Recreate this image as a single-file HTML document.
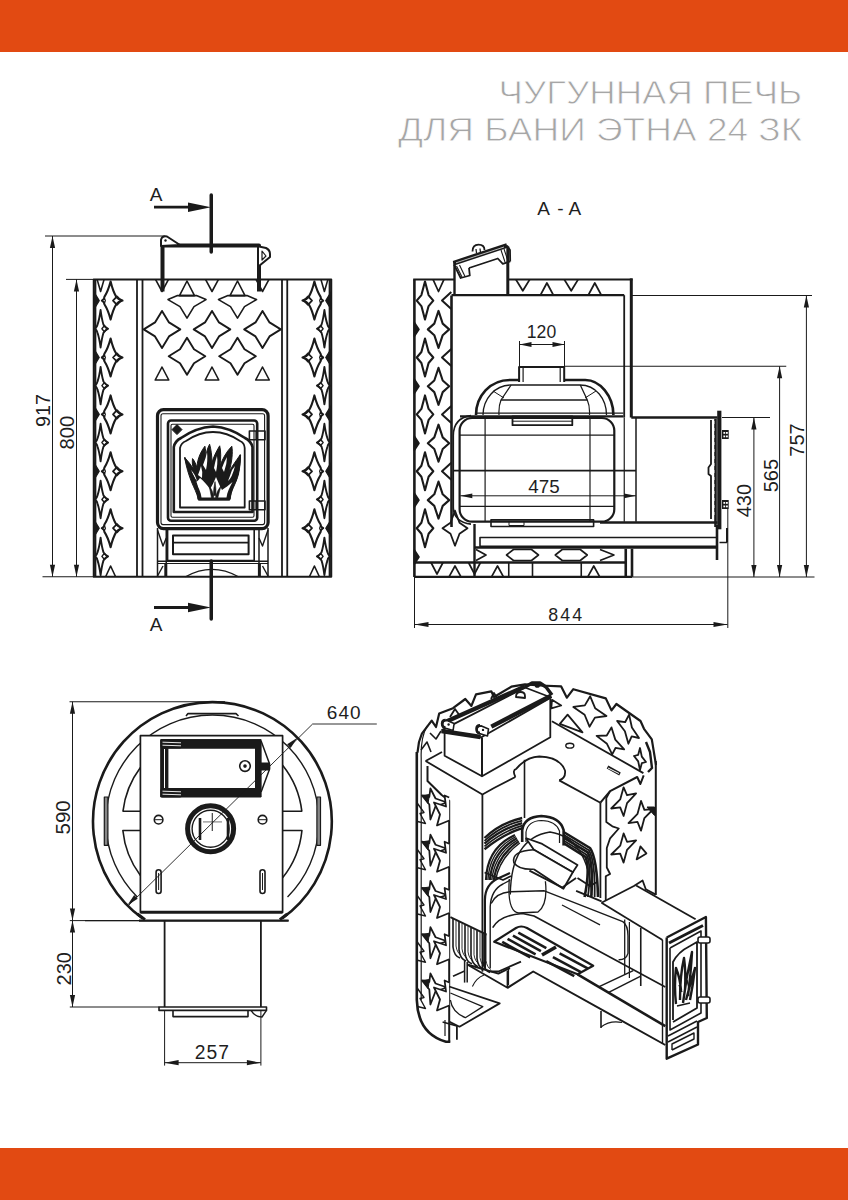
<!DOCTYPE html>
<html><head><meta charset="utf-8"><title>Этна 24 ЗК</title>
<style>
html,body{margin:0;padding:0;background:#fff;}
body{width:848px;height:1200px;overflow:hidden;position:relative;font-family:"Liberation Sans",sans-serif;}
.band{position:absolute;left:0;width:848px;background:#e24a12;}
svg{position:absolute;left:0;top:0;}
svg text{font-family:"Liberation Sans",sans-serif;fill:#1e1e1e;stroke:none;}
</style></head><body>
<div class="band" style="top:0;height:52px"></div>
<div class="band" style="top:1148px;height:52px"></div>
<svg width="848" height="1200" viewBox="0 0 848 1200">
<g fill="none" stroke="#1a1a1a" stroke-linejoin="round" stroke-linecap="butt">
<text x="498.6" y="103.6" font-size="33" textLength="303.5" lengthAdjust="spacingAndGlyphs" style="fill:#a6a6a6;stroke:#fff;stroke-width:0.8px">ЧУГУННАЯ ПЕЧЬ</text>
<text x="398" y="141.2" font-size="33" textLength="404.2" lengthAdjust="spacingAndGlyphs" style="fill:#a6a6a6;stroke:#fff;stroke-width:0.8px">ДЛЯ БАНИ ЭТНА 24 ЗК</text>
<path d="M93.75 279.4 L331.25 279.4 L331.25 576.75 L93.75 576.75Z" stroke-width="2"/>
<line x1="137" y1="279.4" x2="137" y2="576.75" stroke-width="1.8"/>
<line x1="142.5" y1="279.4" x2="142.5" y2="576.75" stroke-width="1.8"/>
<line x1="282" y1="279.4" x2="282" y2="576.75" stroke-width="1.8"/>
<line x1="287.25" y1="279.4" x2="287.25" y2="576.75" stroke-width="1.8"/>
<line x1="45" y1="236" x2="165" y2="236" stroke-width="1"/>
<line x1="66" y1="279.4" x2="93.75" y2="279.4" stroke-width="1"/>
<line x1="42.5" y1="576.75" x2="93.75" y2="576.75" stroke-width="1"/>
<line x1="52.5" y1="236" x2="52.5" y2="576.75" stroke-width="1"/>
<path d="M52.5 236 L49.9 248 L55.1 248Z" fill="#1a1a1a" stroke="none"/>
<path d="M52.5 576.75 L49.9 564.75 L55.1 564.75Z" fill="#1a1a1a" stroke="none"/>
<line x1="76.5" y1="279.4" x2="76.5" y2="576.75" stroke-width="1"/>
<path d="M76.5 279.4 L73.9 291.4 L79.1 291.4Z" fill="#1a1a1a" stroke="none"/>
<path d="M76.5 576.75 L73.9 564.75 L79.1 564.75Z" fill="#1a1a1a" stroke="none"/>
<text x="49.6" y="410.6" font-size="19.8" text-anchor="middle" transform="rotate(-90 49.6 410.6)">917</text>
<text x="74" y="432.7" font-size="20.2" text-anchor="middle" transform="rotate(-90 74 432.7)">800</text>
<path d="M162.5 291.4 L162.5 245.5 L259 245.5 L259 291.4" stroke-width="4"/>
<path d="M161 246 L161 240 Q162 235.5 167 236.5 L180 245 Z" stroke-width="2" fill="#fff"/>
<circle cx="165.5" cy="240.5" r="1.2" fill="#1a1a1a" stroke="none"/>
<path d="M259 246.5 L266 248 Q270 250 270 254 L270 257 L259 266" stroke-width="2" fill="#fff"/>
<path d="M262 251 L266 256 L262 260Z" stroke-width="1.2"/>
<line x1="211.25" y1="195" x2="211.25" y2="252" stroke-width="3.5" stroke-linecap="round"/>
<line x1="211.25" y1="561" x2="211.25" y2="619" stroke-width="3.5" stroke-linecap="round"/>
<line x1="154" y1="207.2" x2="195" y2="207.2" stroke-width="2.8"/>
<path d="M211 207.2 L188 202.4 L188 212Z" fill="#1a1a1a" stroke="none"/>
<line x1="154" y1="607.5" x2="195" y2="607.5" stroke-width="2.8"/>
<path d="M211 607.5 L188 602.7 L188 612.3Z" fill="#1a1a1a" stroke="none"/>
<text x="156.2" y="200.5" font-size="19" text-anchor="middle">A</text>
<text x="156.2" y="631" font-size="19" text-anchor="middle">A</text>
<path d="M168 299.6 L177.5 295.6 L196.5 295.6 L206 299.6 L194 306.6 L187 318.1 L180 306.6Z" stroke-width="1.6"/>
<path d="M187 281 L179.5 295.6 L194.5 295.6Z" stroke-width="1.6"/>
<path d="M218.5 299.6 L228 295.6 L247 295.6 L256.5 299.6 L244.5 306.6 L237.5 318.1 L230.5 306.6Z" stroke-width="1.6"/>
<path d="M237.5 281 L230 295.6 L245 295.6Z" stroke-width="1.6"/>
<path d="M162 310.9 L169 322.4 L180.3 329.4 L169 336.4 L162 347.9 L155 336.4 L143.7 329.4 L155 322.4Z" stroke-width="1.9"/>
<path d="M212 310.9 L219 322.4 L230.3 329.4 L219 336.4 L212 347.9 L205 336.4 L193.7 329.4 L205 322.4Z" stroke-width="1.9"/>
<path d="M262.5 310.9 L269.5 322.4 L280.8 329.4 L269.5 336.4 L262.5 347.9 L255.5 336.4 L244.2 329.4 L255.5 322.4Z" stroke-width="1.9"/>
<path d="M187 337.75 L194 349.25 L205.3 356.25 L194 363.25 L187 374.75 L180 363.25 L168.7 356.25 L180 349.25Z" stroke-width="1.9"/>
<path d="M237.5 337.75 L244.5 349.25 L255.8 356.25 L244.5 363.25 L237.5 374.75 L230.5 363.25 L219.2 356.25 L230.5 349.25Z" stroke-width="1.9"/>
<path d="M162 367 L155.2 380 L168.8 380Z" stroke-width="1.6"/>
<path d="M212 367 L205.2 380 L218.8 380Z" stroke-width="1.6"/>
<path d="M262.5 367 L255.7 380 L269.3 380Z" stroke-width="1.6"/>
<path d="M155.5 279.4 L162 291.5 L168.5 279.4" stroke-width="1.6"/>
<path d="M205.5 279.4 L212 291.5 L218.5 279.4" stroke-width="1.6"/>
<path d="M256 279.4 L262.5 291.5 L269 279.4" stroke-width="1.6"/>
<path d="M110.6 281.6 Q112.92 291.29 116.25 296.9 Q117.8 299.08 122.5 300.6 Q117.8 302.12 116.25 304.3 Q112.92 309.91 110.6 319.6 Q108.06 309.91 104.4 304.3 Q104.49 302.12 101.9 300.6 Q104.49 299.08 104.4 296.9 Q108.06 291.29 110.6 281.6Z" stroke-width="2.1"/>
<path d="M113 300.6 L117 296.4 L121 300.6 L117 304.8Z" stroke-width="1.8"/>
<path d="M101.9 300.6 L104.6 298.4 L105.4 300.6 L104.6 302.8Z" stroke-width="1.2"/>
<path d="M314.4 281.6 Q316.94 291.29 320.6 296.9 Q320.51 299.08 323.1 300.6 Q320.51 302.12 320.6 304.3 Q316.94 309.91 314.4 319.6 Q312.08 309.91 308.75 304.3 Q307.2 302.12 302.5 300.6 Q307.2 299.08 308.75 296.9 Q312.08 291.29 314.4 281.6Z" stroke-width="2.1"/>
<path d="M312 300.6 L308 296.4 L304 300.6 L308 304.8Z" stroke-width="1.8"/>
<path d="M323.1 300.6 L320.4 298.4 L319.6 300.6 L320.4 302.8Z" stroke-width="1.2"/>
<path d="M110.6 338.5 Q112.92 348.19 116.25 353.8 Q117.8 355.98 122.5 357.5 Q117.8 359.02 116.25 361.2 Q112.92 366.81 110.6 376.5 Q108.06 366.81 104.4 361.2 Q104.49 359.02 101.9 357.5 Q104.49 355.98 104.4 353.8 Q108.06 348.19 110.6 338.5Z" stroke-width="2.1"/>
<path d="M113 357.5 L117 353.3 L121 357.5 L117 361.7Z" stroke-width="1.8"/>
<path d="M101.9 357.5 L104.6 355.3 L105.4 357.5 L104.6 359.7Z" stroke-width="1.2"/>
<path d="M314.4 338.5 Q316.94 348.19 320.6 353.8 Q320.51 355.98 323.1 357.5 Q320.51 359.02 320.6 361.2 Q316.94 366.81 314.4 376.5 Q312.08 366.81 308.75 361.2 Q307.2 359.02 302.5 357.5 Q307.2 355.98 308.75 353.8 Q312.08 348.19 314.4 338.5Z" stroke-width="2.1"/>
<path d="M312 357.5 L308 353.3 L304 357.5 L308 361.7Z" stroke-width="1.8"/>
<path d="M323.1 357.5 L320.4 355.3 L319.6 357.5 L320.4 359.7Z" stroke-width="1.2"/>
<path d="M110.6 395.4 Q112.92 405.09 116.25 410.7 Q117.8 412.88 122.5 414.4 Q117.8 415.92 116.25 418.1 Q112.92 423.71 110.6 433.4 Q108.06 423.71 104.4 418.1 Q104.49 415.92 101.9 414.4 Q104.49 412.88 104.4 410.7 Q108.06 405.09 110.6 395.4Z" stroke-width="2.1"/>
<path d="M113 414.4 L117 410.2 L121 414.4 L117 418.6Z" stroke-width="1.8"/>
<path d="M101.9 414.4 L104.6 412.2 L105.4 414.4 L104.6 416.6Z" stroke-width="1.2"/>
<path d="M314.4 395.4 Q316.94 405.09 320.6 410.7 Q320.51 412.88 323.1 414.4 Q320.51 415.92 320.6 418.1 Q316.94 423.71 314.4 433.4 Q312.08 423.71 308.75 418.1 Q307.2 415.92 302.5 414.4 Q307.2 412.88 308.75 410.7 Q312.08 405.09 314.4 395.4Z" stroke-width="2.1"/>
<path d="M312 414.4 L308 410.2 L304 414.4 L308 418.6Z" stroke-width="1.8"/>
<path d="M323.1 414.4 L320.4 412.2 L319.6 414.4 L320.4 416.6Z" stroke-width="1.2"/>
<path d="M110.6 452.3 Q112.92 461.99 116.25 467.6 Q117.8 469.78 122.5 471.3 Q117.8 472.82 116.25 475 Q112.92 480.61 110.6 490.3 Q108.06 480.61 104.4 475 Q104.49 472.82 101.9 471.3 Q104.49 469.78 104.4 467.6 Q108.06 461.99 110.6 452.3Z" stroke-width="2.1"/>
<path d="M113 471.3 L117 467.1 L121 471.3 L117 475.5Z" stroke-width="1.8"/>
<path d="M101.9 471.3 L104.6 469.1 L105.4 471.3 L104.6 473.5Z" stroke-width="1.2"/>
<path d="M314.4 452.3 Q316.94 461.99 320.6 467.6 Q320.51 469.78 323.1 471.3 Q320.51 472.82 320.6 475 Q316.94 480.61 314.4 490.3 Q312.08 480.61 308.75 475 Q307.2 472.82 302.5 471.3 Q307.2 469.78 308.75 467.6 Q312.08 461.99 314.4 452.3Z" stroke-width="2.1"/>
<path d="M312 471.3 L308 467.1 L304 471.3 L308 475.5Z" stroke-width="1.8"/>
<path d="M323.1 471.3 L320.4 469.1 L319.6 471.3 L320.4 473.5Z" stroke-width="1.2"/>
<path d="M110.6 509.2 Q112.92 518.89 116.25 524.5 Q117.8 526.68 122.5 528.2 Q117.8 529.72 116.25 531.9 Q112.92 537.51 110.6 547.2 Q108.06 537.51 104.4 531.9 Q104.49 529.72 101.9 528.2 Q104.49 526.68 104.4 524.5 Q108.06 518.89 110.6 509.2Z" stroke-width="2.1"/>
<path d="M113 528.2 L117 524 L121 528.2 L117 532.4Z" stroke-width="1.8"/>
<path d="M101.9 528.2 L104.6 526 L105.4 528.2 L104.6 530.4Z" stroke-width="1.2"/>
<path d="M314.4 509.2 Q316.94 518.89 320.6 524.5 Q320.51 526.68 323.1 528.2 Q320.51 529.72 320.6 531.9 Q316.94 537.51 314.4 547.2 Q312.08 537.51 308.75 531.9 Q307.2 529.72 302.5 528.2 Q307.2 526.68 308.75 524.5 Q312.08 518.89 314.4 509.2Z" stroke-width="2.1"/>
<path d="M312 528.2 L308 524 L304 528.2 L308 532.4Z" stroke-width="1.8"/>
<path d="M323.1 528.2 L320.4 526 L319.6 528.2 L320.4 530.4Z" stroke-width="1.2"/>
<path d="M100.6 310 Q101.79 319.42 103.5 324.75 Q104.86 327.11 108.1 328.75 Q104.86 330.39 103.5 332.75 Q101.79 338.08 100.6 347.5 Q99.33 338.08 97.5 332.75 Q97.03 330.39 95 328.75 Q97.03 327.11 97.5 324.75 Q99.33 319.42 100.6 310Z" stroke-width="1.9"/>
<path d="M101.9 328.75 L104.4 325.65 L106.9 328.75 L104.4 331.85Z" stroke-width="1.4"/>
<path d="M324.4 310 Q325.67 319.42 327.5 324.75 Q327.97 327.11 330 328.75 Q327.97 330.39 327.5 332.75 Q325.67 338.08 324.4 347.5 Q323.21 338.08 321.5 332.75 Q320.14 330.39 316.9 328.75 Q320.14 327.11 321.5 324.75 Q323.21 319.42 324.4 310Z" stroke-width="1.9"/>
<path d="M323.1 328.75 L320.6 325.65 L318.1 328.75 L320.6 331.85Z" stroke-width="1.4"/>
<path d="M100.6 366.9 Q101.79 376.32 103.5 381.65 Q104.86 384.01 108.1 385.65 Q104.86 387.29 103.5 389.65 Q101.79 394.98 100.6 404.4 Q99.33 394.98 97.5 389.65 Q97.03 387.29 95 385.65 Q97.03 384.01 97.5 381.65 Q99.33 376.32 100.6 366.9Z" stroke-width="1.9"/>
<path d="M101.9 385.65 L104.4 382.55 L106.9 385.65 L104.4 388.75Z" stroke-width="1.4"/>
<path d="M324.4 366.9 Q325.67 376.32 327.5 381.65 Q327.97 384.01 330 385.65 Q327.97 387.29 327.5 389.65 Q325.67 394.98 324.4 404.4 Q323.21 394.98 321.5 389.65 Q320.14 387.29 316.9 385.65 Q320.14 384.01 321.5 381.65 Q323.21 376.32 324.4 366.9Z" stroke-width="1.9"/>
<path d="M323.1 385.65 L320.6 382.55 L318.1 385.65 L320.6 388.75Z" stroke-width="1.4"/>
<path d="M100.6 423.8 Q101.79 433.22 103.5 438.55 Q104.86 440.91 108.1 442.55 Q104.86 444.19 103.5 446.55 Q101.79 451.88 100.6 461.3 Q99.33 451.88 97.5 446.55 Q97.03 444.19 95 442.55 Q97.03 440.91 97.5 438.55 Q99.33 433.22 100.6 423.8Z" stroke-width="1.9"/>
<path d="M101.9 442.55 L104.4 439.45 L106.9 442.55 L104.4 445.65Z" stroke-width="1.4"/>
<path d="M324.4 423.8 Q325.67 433.22 327.5 438.55 Q327.97 440.91 330 442.55 Q327.97 444.19 327.5 446.55 Q325.67 451.88 324.4 461.3 Q323.21 451.88 321.5 446.55 Q320.14 444.19 316.9 442.55 Q320.14 440.91 321.5 438.55 Q323.21 433.22 324.4 423.8Z" stroke-width="1.9"/>
<path d="M323.1 442.55 L320.6 439.45 L318.1 442.55 L320.6 445.65Z" stroke-width="1.4"/>
<path d="M100.6 480.7 Q101.79 490.12 103.5 495.45 Q104.86 497.81 108.1 499.45 Q104.86 501.09 103.5 503.45 Q101.79 508.78 100.6 518.2 Q99.33 508.78 97.5 503.45 Q97.03 501.09 95 499.45 Q97.03 497.81 97.5 495.45 Q99.33 490.12 100.6 480.7Z" stroke-width="1.9"/>
<path d="M101.9 499.45 L104.4 496.35 L106.9 499.45 L104.4 502.55Z" stroke-width="1.4"/>
<path d="M324.4 480.7 Q325.67 490.12 327.5 495.45 Q327.97 497.81 330 499.45 Q327.97 501.09 327.5 503.45 Q325.67 508.78 324.4 518.2 Q323.21 508.78 321.5 503.45 Q320.14 501.09 316.9 499.45 Q320.14 497.81 321.5 495.45 Q323.21 490.12 324.4 480.7Z" stroke-width="1.9"/>
<path d="M323.1 499.45 L320.6 496.35 L318.1 499.45 L320.6 502.55Z" stroke-width="1.4"/>
<path d="M100.6 537.6 Q101.79 547.02 103.5 552.35 Q104.86 554.71 108.1 556.35 Q104.86 557.99 103.5 560.35 Q101.79 565.68 100.6 575.1 Q99.33 565.68 97.5 560.35 Q97.03 557.99 95 556.35 Q97.03 554.71 97.5 552.35 Q99.33 547.02 100.6 537.6Z" stroke-width="1.9"/>
<path d="M101.9 556.35 L104.4 553.25 L106.9 556.35 L104.4 559.45Z" stroke-width="1.4"/>
<path d="M324.4 537.6 Q325.67 547.02 327.5 552.35 Q327.97 554.71 330 556.35 Q327.97 557.99 327.5 560.35 Q325.67 565.68 324.4 575.1 Q323.21 565.68 321.5 560.35 Q320.14 557.99 316.9 556.35 Q320.14 554.71 321.5 552.35 Q323.21 547.02 324.4 537.6Z" stroke-width="1.9"/>
<path d="M323.1 556.35 L320.6 553.25 L318.1 556.35 L320.6 559.45Z" stroke-width="1.4"/>
<path d="M97.1 279.4 L100.6 291.5 L104.1 279.4" stroke-width="1.6"/>
<path d="M320.9 279.4 L324.4 291.5 L327.9 279.4" stroke-width="1.6"/>
<path d="M105.6 576.75 L110.6 566 L115.6 576.75" stroke-width="1.6"/>
<path d="M309.4 576.75 L314.4 566 L319.4 576.75" stroke-width="1.6"/>
<path d="M93.75 291.6 L99.25 300.6 L93.75 309.6Z" stroke-width="1.2" fill="#1a1a1a"/>
<path d="M331.25 291.6 L325.75 300.6 L331.25 309.6Z" stroke-width="1.2" fill="#1a1a1a"/>
<path d="M93.75 348.5 L99.25 357.5 L93.75 366.5Z" stroke-width="1.2" fill="#1a1a1a"/>
<path d="M331.25 348.5 L325.75 357.5 L331.25 366.5Z" stroke-width="1.2" fill="#1a1a1a"/>
<path d="M93.75 405.4 L99.25 414.4 L93.75 423.4Z" stroke-width="1.2" fill="#1a1a1a"/>
<path d="M331.25 405.4 L325.75 414.4 L331.25 423.4Z" stroke-width="1.2" fill="#1a1a1a"/>
<path d="M93.75 462.3 L99.25 471.3 L93.75 480.3Z" stroke-width="1.2" fill="#1a1a1a"/>
<path d="M331.25 462.3 L325.75 471.3 L331.25 480.3Z" stroke-width="1.2" fill="#1a1a1a"/>
<path d="M93.75 519.2 L99.25 528.2 L93.75 537.2Z" stroke-width="1.2" fill="#1a1a1a"/>
<path d="M331.25 519.2 L325.75 528.2 L331.25 537.2Z" stroke-width="1.2" fill="#1a1a1a"/>
<line x1="95.25" y1="279.4" x2="95.25" y2="576.75" stroke-width="2.2"/>
<line x1="329.75" y1="279.4" x2="329.75" y2="576.75" stroke-width="2.2"/>
<rect x="157.5" y="409.7" width="110.6" height="118.9" rx="6" stroke-width="3.2"/>
<rect x="161" y="413.8" width="103.6" height="110.8" rx="2" stroke-width="1.1"/>
<rect x="168" y="420.5" width="89.2" height="100.3" rx="3" stroke-width="2.6"/>
<rect x="171" y="424.2" width="83" height="93" rx="1.5" stroke-width="1.1"/>
<path d="M173.8 512 L173.8 447 Q175 441 181 438 Q196 427.5 213 426.5 Q230 427.5 245 438 Q251 441 252.5 447 L252.5 512 Z" stroke-width="2.6"/>
<path d="M180 507.5 L180 448 Q181 443 186 441 Q199 432 213 432 Q227 432 240 441 Q244.5 443 244.7 448 L244.7 507.5 Z" stroke-width="1.8"/>
<path d="M177 424.6 L182 429.6 L177 434.6 L172 429.6 Z" fill="#1a1a1a" stroke-width="1"/>
<rect x="249.4" y="431" width="15.6" height="8.7" stroke-width="1.6"/>
<line x1="256" y1="431" x2="256" y2="439.7" stroke-width="1.2"/>
<rect x="249.4" y="501" width="15.6" height="8.7" stroke-width="1.6"/>
<line x1="256" y1="501" x2="256" y2="509.7" stroke-width="1.2"/>
<path d="M198.3 499.5 L229.8 499.5 C230.5 491 236 484 238.5 474 C240 467 240.5 460 240.3 454.7 C236 461 232 466 229 472 C232 462 233 452 231.8 446.2 C226 452 222 460 220 466 C221 458 221 451 219.7 445.8 C216 452 213 458 212 463 C212 456 211 449 209.6 444.2 C207 449 206 454 206 458 C206 453 205.5 449 204.9 446.2 C199 454 197 462 197 468 C196 464 194 460 192.5 458.6 C192 462 192.5 466 193.5 469 C191 465 188 461 184.7 457.5 C186 466 189 476 192 483 C194 488 197 493 198.3 499.5 Z" fill="#1a1a1a" stroke="#1a1a1a" stroke-width="1"/>
<path d="M201.5 497.5 L226.5 497.5 C227 492 230 487 232.5 482 C229 485 225 488 222 490 C220 486 218 482 216 477 C214 482 212 486 210 489 C207 485 204 481 200 478 C198 481 196 482 195.5 482 C198 487 201 492 201.5 497.5 Z" fill="#fff" stroke="none"/>
<path d="M191 470 Q195 474 197 481 Q194 478 191 470 Z" fill="#fff" stroke="none"/>
<path d="M232 470 Q230 476 228 481 Q232 478 235 466 Z" fill="#fff" stroke="none"/>
<path d="M203 465 Q206 458 207 452 Q208 460 206 470 Z" fill="#fff" stroke="none"/>
<path d="M214 468 Q215 462 217 456 Q218 463 216 472 Z" fill="#fff" stroke="none"/>
<path d="M222 468 Q224 462 227 457 Q227 464 224 472 Z" fill="#fff" stroke="none"/>
<path d="M198 475 Q200 470 201 466 Q203 472 202 478 Z" fill="#fff" stroke="none"/>
<path d="M211.53 498.26 Q210.43 491.4 208.79 484.69 Q212.97 490.65 213.84 497.58 Z" fill="#1a1a1a" stroke="#1a1a1a" stroke-width="0.6"/>
<path d="M215.45 497.5 Q216.74 490.88 221.25 485.47 Q219.21 491.81 217.7 498.34 Z" fill="#1a1a1a" stroke="#1a1a1a" stroke-width="0.6"/>
<path d="M213.33 495.55 Q213.4 488.54 215.02 481.58 Q216.25 488.62 215.93 495.62 Z" fill="#1a1a1a" stroke="#1a1a1a" stroke-width="0.6"/>
<path d="M198.3 499.5 Q199 488 194 478 Q188 468 184.7 457.5 M229.8 499.5 Q231 488 236 480 Q240 468 240.3 454.7" stroke-width="1.6"/>
<line x1="198.3" y1="499.5" x2="229.8" y2="499.5" stroke-width="2.4"/>
<rect x="167.6" y="529" width="86.6" height="31.5" stroke-width="1.6"/>
<rect x="173" y="535.6" width="75.6" height="18.7" stroke-width="2"/>
<line x1="173" y1="542.6" x2="248.6" y2="542.6" stroke-width="1.8"/>
<line x1="157" y1="561.3" x2="268" y2="561.3" stroke-width="1.6"/>
<line x1="157" y1="563.5" x2="268" y2="563.5" stroke-width="1.2"/>
<path d="M185.5 576.8 Q212 562 238.5 576.8" stroke-width="1.2"/>
<line x1="157.5" y1="528" x2="157.5" y2="576.75" stroke-width="1.5"/>
<line x1="166.25" y1="528" x2="166.25" y2="576.75" stroke-width="1.5"/>
<line x1="259" y1="528" x2="259" y2="576.75" stroke-width="1.5"/>
<line x1="268" y1="528" x2="268" y2="576.75" stroke-width="1.5"/>
<line x1="165.8" y1="563" x2="165.8" y2="576.75" stroke-width="3"/>
<line x1="259.4" y1="563" x2="259.4" y2="576.75" stroke-width="3"/>
<path d="M157.5 530 L163 546 L166.25 538" stroke-width="1.4"/>
<path d="M268 530 L262.5 546 L259 538" stroke-width="1.4"/>
<path d="M157.5 576 L163 566" stroke-width="1.4"/>
<path d="M268 576 L262.5 566" stroke-width="1.4"/>
<text x="537.3" y="214.8" font-size="19" text-anchor="start">A</text>
<text x="560.5" y="214.8" font-size="19" text-anchor="middle">-</text>
<text x="568.4" y="214.8" font-size="19" text-anchor="start">A</text>
<line x1="414.4" y1="279.4" x2="414.4" y2="576.9" stroke-width="2.6"/>
<line x1="451.5" y1="295.5" x2="451.5" y2="527" stroke-width="2.6"/>
<line x1="474.5" y1="524" x2="474.5" y2="576.9" stroke-width="2.4"/>
<line x1="413.2" y1="279.4" x2="454" y2="279.4" stroke-width="2"/>
<path d="M425 281.6 L428.6 295.1 L433.3 300.6 L428.6 306.1 L425 319.6 L421.4 306.1 L416.7 300.6 L421.4 295.1Z" stroke-width="2.1"/>
<path d="M451.3 292.1 L442 300.6 L451.3 309.1" stroke-width="2"/>
<path d="M425 338.5 L428.6 352 L433.3 357.5 L428.6 363 L425 376.5 L421.4 363 L416.7 357.5 L421.4 352Z" stroke-width="2.1"/>
<path d="M451.3 349 L442 357.5 L451.3 366" stroke-width="2"/>
<path d="M425 395.4 L428.6 408.9 L433.3 414.4 L428.6 419.9 L425 433.4 L421.4 419.9 L416.7 414.4 L421.4 408.9Z" stroke-width="2.1"/>
<path d="M451.3 405.9 L442 414.4 L451.3 422.9" stroke-width="2"/>
<path d="M425 452.3 L428.6 465.8 L433.3 471.3 L428.6 476.8 L425 490.3 L421.4 476.8 L416.7 471.3 L421.4 465.8Z" stroke-width="2.1"/>
<path d="M451.3 462.8 L442 471.3 L451.3 479.8" stroke-width="2"/>
<path d="M425 509.2 L428.6 522.7 L433.3 528.2 L428.6 533.7 L425 547.2 L421.4 533.7 L416.7 528.2 L421.4 522.7Z" stroke-width="2.1"/>
<path d="M455 510.7 L459.5 522.7 L467.5 528.2 L459.5 533.7 L455 545.7 L450.5 533.7 L442.5 528.2 L450.5 522.7Z" stroke-width="1.8"/>
<path d="M438.5 310.9 L442.7 323.6 L449.2 329.4 L442.7 335.2 L438.5 347.9 L434.3 335.2 L427.8 329.4 L434.3 323.6Z" stroke-width="2.1"/>
<path d="M414.4 322.4 L419 329.4 L414.4 336.4Z" stroke-width="1.6" fill="#1a1a1a"/>
<path d="M438.5 367.8 L442.7 380.5 L449.2 386.3 L442.7 392.1 L438.5 404.8 L434.3 392.1 L427.8 386.3 L434.3 380.5Z" stroke-width="2.1"/>
<path d="M414.4 379.3 L419 386.3 L414.4 393.3Z" stroke-width="1.6" fill="#1a1a1a"/>
<path d="M438.5 424.7 L442.7 437.4 L449.2 443.2 L442.7 449 L438.5 461.7 L434.3 449 L427.8 443.2 L434.3 437.4Z" stroke-width="2.1"/>
<path d="M414.4 436.2 L419 443.2 L414.4 450.2Z" stroke-width="1.6" fill="#1a1a1a"/>
<path d="M438.5 481.6 L442.7 494.3 L449.2 500.1 L442.7 505.9 L438.5 518.6 L434.3 505.9 L427.8 500.1 L434.3 494.3Z" stroke-width="2.1"/>
<path d="M414.4 493.1 L419 500.1 L414.4 507.1Z" stroke-width="1.6" fill="#1a1a1a"/>
<path d="M414.4 550 L419 557 L414.4 564Z" stroke-width="1.6" fill="#1a1a1a"/>
<path d="M433 279.4 L438.5 291.5 L444 279.4" stroke-width="1.7"/>
<line x1="508.2" y1="279.4" x2="632.5" y2="279.4" stroke-width="2"/>
<line x1="631.3" y1="278.4" x2="631.3" y2="417.5" stroke-width="3"/>
<line x1="451.5" y1="295.2" x2="624.2" y2="295.2" stroke-width="2.2"/>
<line x1="624.2" y1="295.2" x2="624.2" y2="417.5" stroke-width="1.8"/>
<path d="M515.8 279.4 L522.8 290.8 L529.8 279.4" stroke-width="1.8"/>
<path d="M564.2 279.4 L571.2 290.8 L578.2 279.4" stroke-width="1.8"/>
<path d="M540.4 295.2 L546.9 283 L553.4 295.2" stroke-width="1.8"/>
<path d="M588.3 295.2 L594.8 283 L601.3 295.2" stroke-width="1.8"/>
<line x1="454.5" y1="262" x2="454.5" y2="295.2" stroke-width="2.4"/>
<line x1="507.8" y1="246.5" x2="507.8" y2="295.2" stroke-width="3"/>
<path d="M472.5 251.5 Q472.5 244.6 478.5 244.6 Q484.5 244.6 484.5 250" stroke-width="1.8" fill="#fff"/>
<line x1="476" y1="249" x2="476.5" y2="253" stroke-width="1.2"/>
<line x1="480" y1="248.5" x2="480.5" y2="252.5" stroke-width="1.2"/>
<path d="M453.5 263.2 L507 245.5" stroke-width="4.8"/>
<path d="M456 262.8 L504 247" stroke-width="0.7" stroke="#fff"/>
<path d="M454 264.5 L460.7 278 L469.8 275.5 L469 268" stroke-width="1.8"/>
<line x1="456.5" y1="266" x2="462" y2="277" stroke-width="1.1"/>
<line x1="459.5" y1="265" x2="465" y2="276.5" stroke-width="1.1"/>
<path d="M469 268 L497.8 258.5 L502.8 263.9 L510.2 261.4" stroke-width="1.8"/>
<line x1="501" y1="250" x2="505" y2="262" stroke-width="1.1"/>
<line x1="504" y1="249" x2="508" y2="261" stroke-width="1.1"/>
<path d="M507 245.5 L510 250 L510.2 261.4" stroke-width="1.8"/>
<path d="M519.1 382 L519.1 367 L564.2 367 L564.2 382" stroke-width="2"/>
<line x1="523.1" y1="367" x2="523.1" y2="382" stroke-width="1.2"/>
<line x1="560.2" y1="367" x2="560.2" y2="382" stroke-width="1.2"/>
<line x1="519.5" y1="341" x2="519.5" y2="367" stroke-width="1"/>
<line x1="564.5" y1="341" x2="564.5" y2="367" stroke-width="1"/>
<line x1="519.5" y1="344.5" x2="564.5" y2="344.5" stroke-width="1"/>
<path d="M519.5 344.5 L531.5 342.1 L531.5 346.9Z" fill="#1a1a1a" stroke="none"/>
<path d="M564.5 344.5 L552.5 342.1 L552.5 346.9Z" fill="#1a1a1a" stroke="none"/>
<text x="541.5" y="338.2" font-size="17.6" text-anchor="middle">120</text>
<path d="M476 415 C476 396 490 380 510 380 L519.1 380 M564.2 380 L585.3 380 C600 380 613.4 396 613.4 415" stroke-width="2.6"/>
<path d="M483 415 C483 399 495 385 511 385 L580 385 C596 385 606.5 399 606.5 415" stroke-width="1.3"/>
<path d="M511.1 385 L501 400 L587.3 400 L580.3 385" stroke-width="1.3"/>
<path d="M501 400 Q498.5 406 499 415 M587.3 400 Q590 406 589.5 415" stroke-width="1.2"/>
<line x1="493" y1="391" x2="504" y2="398" stroke-width="1"/>
<line x1="596" y1="391" x2="585" y2="398" stroke-width="1"/>
<line x1="476" y1="413.1" x2="623.4" y2="413.1" stroke-width="1.4"/>
<line x1="460" y1="416.3" x2="623.4" y2="416.3" stroke-width="2.2"/>
<rect x="512.5" y="416.3" width="59.8" height="8.9" stroke-width="1.8"/>
<line x1="512.5" y1="421.2" x2="572.3" y2="421.2" stroke-width="1"/>
<path d="M471 415.6 Q453.3 418 453.3 435.7 L453.3 506.4 Q453.3 522 471 524.1" stroke-width="1.6"/>
<rect x="459.6" y="418" width="154.7" height="103.7" rx="12.5" stroke-width="2.2"/>
<line x1="485.1" y1="418" x2="485.1" y2="521.7" stroke-width="1.2"/>
<line x1="590" y1="418" x2="590" y2="521.7" stroke-width="1.2"/>
<line x1="459.6" y1="435.2" x2="614.3" y2="435.2" stroke-width="1.2"/>
<line x1="453.3" y1="470.6" x2="636" y2="470.6" stroke-width="1.8"/>
<line x1="459.6" y1="506.4" x2="614.3" y2="506.4" stroke-width="1.2"/>
<line x1="460.3" y1="495.8" x2="636" y2="495.8" stroke-width="1"/>
<path d="M460.3 495.8 L472.3 493.4 L472.3 498.2Z" fill="#1a1a1a" stroke="none"/>
<path d="M636 495.8 L624 493.4 L624 498.2Z" fill="#1a1a1a" stroke="none"/>
<text x="544" y="492.7" font-size="18.8" text-anchor="middle">475</text>
<rect x="491" y="519.9" width="102.6" height="6.6" stroke-width="1.6"/>
<rect x="509" y="521.5" width="15" height="4" stroke-width="1"/>
<line x1="624.25" y1="417.5" x2="624.25" y2="521.7" stroke-width="1.2"/>
<line x1="636" y1="417.5" x2="636" y2="521.7" stroke-width="1.5"/>
<line x1="631.3" y1="417.5" x2="717.5" y2="417.5" stroke-width="2.6"/>
<line x1="600" y1="522.5" x2="717.5" y2="522.5" stroke-width="2.6"/>
<line x1="719.3" y1="410.7" x2="719.3" y2="529.3" stroke-width="4.2"/>
<line x1="715.5" y1="419" x2="715.5" y2="527" stroke-width="2.6"/>
<line x1="714" y1="421" x2="714" y2="519" stroke-width="0.8" stroke="#fff" stroke-dasharray="3 4"/>
<path d="M711 420 L711 464 L708.5 467.5 L708.5 474 L711 476 L711 519" stroke-width="1.8"/>
<rect x="722" y="430" width="6.7" height="9" fill="#1a1a1a" stroke="none"/>
<rect x="723.4" y="432" width="1.8" height="1.8" fill="#fff" stroke="none"/>
<rect x="723.4" y="435.5" width="1.8" height="1.8" fill="#fff" stroke="none"/>
<rect x="726" y="432" width="1.8" height="1.8" fill="#fff" stroke="none"/>
<rect x="726" y="435.5" width="1.8" height="1.8" fill="#fff" stroke="none"/>
<rect x="722" y="500" width="6.7" height="9" fill="#1a1a1a" stroke="none"/>
<rect x="723.4" y="502" width="1.8" height="1.8" fill="#fff" stroke="none"/>
<rect x="723.4" y="505.5" width="1.8" height="1.8" fill="#fff" stroke="none"/>
<rect x="726" y="502" width="1.8" height="1.8" fill="#fff" stroke="none"/>
<rect x="726" y="505.5" width="1.8" height="1.8" fill="#fff" stroke="none"/>
<line x1="632" y1="295.5" x2="812" y2="295.5" stroke-width="1"/>
<line x1="565" y1="366.25" x2="786.25" y2="366.25" stroke-width="1"/>
<line x1="722" y1="417.5" x2="770" y2="417.5" stroke-width="1"/>
<line x1="632" y1="577" x2="814.5" y2="577" stroke-width="1"/>
<line x1="753.9" y1="417.5" x2="753.9" y2="577" stroke-width="1"/>
<path d="M753.9 417.5 L751.3 429.5 L756.5 429.5Z" fill="#1a1a1a" stroke="none"/>
<path d="M753.9 577 L751.3 565 L756.5 565Z" fill="#1a1a1a" stroke="none"/>
<line x1="779.6" y1="366.25" x2="779.6" y2="577" stroke-width="1"/>
<path d="M779.6 366.25 L777 378.25 L782.2 378.25Z" fill="#1a1a1a" stroke="none"/>
<path d="M779.6 577 L777 565 L782.2 565Z" fill="#1a1a1a" stroke="none"/>
<line x1="806.4" y1="295.5" x2="806.4" y2="577" stroke-width="1"/>
<path d="M806.4 295.5 L803.8 307.5 L809 307.5Z" fill="#1a1a1a" stroke="none"/>
<path d="M806.4 577 L803.8 565 L809 565Z" fill="#1a1a1a" stroke="none"/>
<text x="751.5" y="500.6" font-size="20" text-anchor="middle" transform="rotate(-90 751.5 500.6)">430</text>
<text x="777.8" y="475.6" font-size="20" text-anchor="middle" transform="rotate(-90 777.8 475.6)">565</text>
<text x="804" y="440" font-size="20" text-anchor="middle" transform="rotate(-90 804 440)">757</text>
<line x1="414.5" y1="577" x2="414.5" y2="628" stroke-width="1"/>
<line x1="727.8" y1="509" x2="727.8" y2="628" stroke-width="1"/>
<line x1="414.5" y1="624.5" x2="727.5" y2="624.5" stroke-width="1"/>
<path d="M414.5 624.5 L428.5 621.9 L428.5 627.1Z" fill="#1a1a1a" stroke="none"/>
<path d="M727.5 624.5 L713.5 621.9 L713.5 627.1Z" fill="#1a1a1a" stroke="none"/>
<text x="566.3" y="621.4" font-size="17.8" text-anchor="middle" letter-spacing="2.2">844</text>
<rect x="480" y="537.5" width="237" height="8.8" stroke-width="1.6"/>
<line x1="475" y1="547.5" x2="717" y2="547.5" stroke-width="2.6"/>
<line x1="414.4" y1="562.5" x2="625.75" y2="562.5" stroke-width="2.6"/>
<line x1="414" y1="576.9" x2="632" y2="576.9" stroke-width="2.2"/>
<line x1="717" y1="525" x2="717" y2="560" stroke-width="2.6"/>
<line x1="727" y1="528" x2="727" y2="542.5" stroke-width="2"/>
<line x1="719.5" y1="542.5" x2="727" y2="542.5" stroke-width="1.5"/>
<line x1="625.75" y1="548.75" x2="625.75" y2="576.9" stroke-width="2.6"/>
<line x1="632" y1="548.75" x2="632" y2="576.9" stroke-width="2.6"/>
<path d="M506.5 555 L513.5 549.5 L531.5 549.5 L538.5 555 L531.5 560.5 L513.5 560.5Z" stroke-width="1.6"/>
<path d="M555.25 555 L562.25 549.5 L580.25 549.5 L587.25 555 L580.25 560.5 L562.25 560.5Z" stroke-width="1.6"/>
<path d="M476 549.5 L486 555 L476 560.5" stroke-width="1.7"/>
<path d="M600 549.5 L614 555 L600 560.5" stroke-width="1.6"/>
<path d="M449 576.9 L455 566 L461 576.9" stroke-width="1.7"/>
<path d="M491.5 576.9 L497.5 566 L503.5 576.9" stroke-width="1.7"/>
<path d="M587.75 576.9 L593.75 566 L599.75 576.9" stroke-width="1.7"/>
<path d="M431 562.5 L437 574 L443 562.5" stroke-width="1.7"/>
<path d="M468.5 562.5 L474.5 574 L480.5 562.5" stroke-width="1.7"/>
<line x1="508.75" y1="562.5" x2="508.75" y2="576.9" stroke-width="1.6"/>
<line x1="532.5" y1="562.5" x2="532.5" y2="576.9" stroke-width="1.6"/>
<line x1="581.25" y1="562.5" x2="581.25" y2="576.9" stroke-width="1.6"/>
<path d="M142.64 918.4 A 119.4 119.4 0 1 1 282.16 918.4" stroke-width="2.6"/>
<path d="M137.29 897 A 106.5 106.5 0 1 1 287.51 897" stroke-width="1.4"/>
<rect x="104.3" y="797" width="3.6" height="48.3" fill="#888" stroke-width="1.2"/>
<rect x="316.9" y="797" width="3.6" height="48.3" fill="#888" stroke-width="1.2"/>
<path d="M186 716 L188 713.6 L236 713.6 L238.5 716" stroke-width="1.6"/>
<path d="M140.4 767.5 A 90 90 0 0 0 122.99 811.2 L 140.4 811.2" stroke-width="1.6"/>
<path d="M140.4 830.5 L 122.85 830.5 A 90 90 0 0 0 140.4 875.5" stroke-width="1.6"/>
<path d="M282.6 765.18 A 90 90 0 0 1 301.81 811.2 L 282.6 811.2" stroke-width="1.6"/>
<path d="M282.6 830.5 L 301.95 830.5 A 90 90 0 0 1 282.6 877.82" stroke-width="1.6"/>
<rect x="140.4" y="735.7" width="142.2" height="176.5" fill="#fff" stroke-width="1.7"/>
<line x1="140.4" y1="912.2" x2="282.6" y2="912.2" stroke-width="3"/>
<line x1="85" y1="920.6" x2="288.6" y2="920.6" stroke-width="1.2"/>
<line x1="139" y1="920.6" x2="288.6" y2="920.6" stroke-width="2.2"/>
<path d="M137.5 914 L145 919.6" stroke-width="3"/>
<path d="M287.3 914 L279.8 919.6" stroke-width="3"/>
<path d="M160.7 739.6 L261.1 739.6 L261.1 797 L160.7 797 Z M168.4 748.8 L168.4 787.9 L255 787.9 L255 748.8 Z" fill="#1a1a1a" fill-rule="evenodd" stroke="none"/>
<path d="M160.7 739.6 L261.1 739.6 L261.1 797 L160.7 797 Z" stroke-width="1" rx="2"/>
<rect x="161" y="739.6" width="20.5" height="8.4" rx="1.5" fill="#1a1a1a" stroke-width="1.2"/>
<line x1="162.5" y1="742.2" x2="181" y2="742.8" stroke-width="0.9" stroke="#fff"/>
<line x1="162.5" y1="745.2" x2="181" y2="745.8" stroke-width="0.9" stroke="#fff"/>
<rect x="161" y="788.6" width="20.5" height="8.4" rx="1.5" fill="#1a1a1a" stroke-width="1.2"/>
<line x1="162.5" y1="791.2" x2="181" y2="791.8" stroke-width="0.9" stroke="#fff"/>
<line x1="162.5" y1="794.2" x2="181" y2="794.8" stroke-width="0.9" stroke="#fff"/>
<line x1="164.5" y1="749" x2="164.5" y2="788" stroke-width="1.0" stroke="#fff"/>
<path d="M261.1 741 L269.6 764 L269.6 769 L261.1 792" stroke-width="1.5"/>
<rect x="259.6" y="762.5" width="10" height="8" fill="#1a1a1a" stroke="none"/>
<circle cx="245" cy="766.1" r="5.3" stroke-width="1.6"/>
<circle cx="245" cy="766.1" r="1.8" fill="#1a1a1a" stroke="none"/>
<circle cx="158.6" cy="819.7" r="4.3" stroke-width="1.6"/>
<line x1="155.1" y1="819.7" x2="162.1" y2="819.7" stroke-width="1"/>
<rect x="156.1" y="869.8" width="5" height="23.7" rx="2.5" stroke-width="1.6"/>
<line x1="158.6" y1="873" x2="158.6" y2="890" stroke-width="1"/>
<circle cx="262.5" cy="819.7" r="4.3" stroke-width="1.6"/>
<line x1="259" y1="819.7" x2="266" y2="819.7" stroke-width="1"/>
<rect x="260" y="869.8" width="5" height="23.7" rx="2.5" stroke-width="1.6"/>
<line x1="262.5" y1="873" x2="262.5" y2="890" stroke-width="1"/>
<circle cx="210.6" cy="828.75" r="23" stroke-width="5"/>
<circle cx="210.6" cy="828.75" r="18.5" stroke-width="1.4"/>
<line x1="200" y1="818" x2="200" y2="840" stroke-width="2.6"/>
<line x1="228" y1="818" x2="228" y2="840" stroke-width="2.6"/>
<line x1="203" y1="821.9" x2="222" y2="821.9" stroke-width="1.2" stroke="#888"/>
<line x1="212.25" y1="813" x2="212.25" y2="831" stroke-width="1"/>
<line x1="128" y1="906" x2="312.6" y2="724" stroke-width="0.9"/>
<line x1="312.6" y1="724" x2="376.8" y2="724" stroke-width="0.9"/>
<path d="M297.43 737.67 L290.64 747.88 L287.12 744.32Z" fill="#1a1a1a" stroke="none"/>
<path d="M127.37 905.33 L134.16 895.12 L137.68 898.68Z" fill="#1a1a1a" stroke="none"/>
<text x="344.2" y="719" font-size="19" text-anchor="middle" letter-spacing="1">640</text>
<line x1="69.5" y1="701.75" x2="225" y2="701.75" stroke-width="1"/>
<line x1="72.5" y1="701.75" x2="72.5" y2="1007" stroke-width="1"/>
<path d="M72.5 701.75 L69.9 713.75 L75.1 713.75Z" fill="#1a1a1a" stroke="none"/>
<path d="M72.5 920.6 L69.9 908.6 L75.1 908.6Z" fill="#1a1a1a" stroke="none"/>
<path d="M72.5 920.6 L69.9 932.6 L75.1 932.6Z" fill="#1a1a1a" stroke="none"/>
<path d="M72.5 1007 L69.9 995 L75.1 995Z" fill="#1a1a1a" stroke="none"/>
<line x1="69.8" y1="920.6" x2="140" y2="920.6" stroke-width="1"/>
<line x1="69.8" y1="1007" x2="159" y2="1007" stroke-width="1"/>
<text x="70.2" y="817.4" font-size="20.5" text-anchor="middle" transform="rotate(-90 70.2 817.4)">590</text>
<text x="71.4" y="968.7" font-size="20" text-anchor="middle" transform="rotate(-90 71.4 968.7)">230</text>
<line x1="164.6" y1="920.6" x2="164.6" y2="1007" stroke-width="1.8"/>
<line x1="260.9" y1="920.6" x2="260.9" y2="1007" stroke-width="1.8"/>
<path d="M159 1007 L266.5 1007 L266.5 1010.4 L159 1010.4Z" stroke-width="1.6"/>
<path d="M173 1010.4 L173 1016.6 L248 1016.6 L248 1010.4" stroke-width="1.6"/>
<path d="M251 1010.4 Q255 1017 262 1017 L266.5 1010.4" stroke-width="1.4"/>
<line x1="164.6" y1="1010.4" x2="164.6" y2="1065.6" stroke-width="1"/>
<line x1="260.9" y1="1010.4" x2="260.9" y2="1065.6" stroke-width="1"/>
<line x1="164.6" y1="1062.7" x2="260.9" y2="1062.7" stroke-width="1"/>
<path d="M164.6 1062.7 L178.6 1060.1 L178.6 1065.3Z" fill="#1a1a1a" stroke="none"/>
<path d="M260.9 1062.7 L246.9 1060.1 L246.9 1065.3Z" fill="#1a1a1a" stroke="none"/>
<text x="212.4" y="1059.2" font-size="19.3" text-anchor="middle" letter-spacing="1">257</text>
<path d="M416.8 752 L416.8 1000 Q418 1034 446 1041.7 L450.3 1041.7" stroke-width="2.6"/>
<path d="M417.5 752.5 L419 742 L421.9 733.6 L431.7 720.6 L436 727 L439.2 713.6 L453 708.2 L465.3 699 L471.4 705.9 L476 694.4 L491.3 691.3 L494 697 L511.3 686.7 L525 684.4 L540 685.5 L561.2 686.4 L566.9 697.7 L573.3 689.2 L605.8 698.4 L611.5 710.4 L616.4 704 L640.5 721 L644 728.8 L651.8 739.4 L656 765" stroke-width="2.2"/>
<line x1="655.8" y1="761" x2="655.8" y2="895" stroke-width="2"/>
<path d="M427.5 766 L427.5 781 L441.7 795 L449.2 800.8 L449.2 1041.7" stroke-width="2"/>
<path d="M430.4 788.5 L435.57 798.5 L447 802.5 L435.57 806.25 L430.4 819.5 L429.32 804.5 L422 795.5 L429.32 796.75Z" stroke-width="1.8" fill="#fff"/>
<path d="M422.5 795.5 L429.5 794.5 L428 803.5Z" stroke-width="1" fill="#1a1a1a"/>
<path d="M449.2 797.5 L444.6 795.5 L446 806.5 L434 802.5 L440 814.5 L437 825.5 L449.2 820.5" stroke-width="1.8" fill="#fff"/>
<path d="M417.5 803.5 L424 812.5 L420 813.5 L425.5 823.5 L417.5 821.5" stroke-width="1.4"/>
<path d="M430.4 834.75 L435.57 844.75 L447 848.75 L435.57 852.5 L430.4 865.75 L429.32 850.75 L422 841.75 L429.32 843Z" stroke-width="1.8" fill="#fff"/>
<path d="M422.5 841.75 L429.5 840.75 L428 849.75Z" stroke-width="1" fill="#1a1a1a"/>
<path d="M449.2 843.75 L444.6 841.75 L446 852.75 L434 848.75 L440 860.75 L437 871.75 L449.2 866.75" stroke-width="1.8" fill="#fff"/>
<path d="M417.5 849.75 L424 858.75 L420 859.75 L425.5 869.75 L417.5 867.75" stroke-width="1.4"/>
<path d="M430.4 881 L435.57 891 L447 895 L435.57 898.75 L430.4 912 L429.32 897 L422 888 L429.32 889.25Z" stroke-width="1.8" fill="#fff"/>
<path d="M422.5 888 L429.5 887 L428 896Z" stroke-width="1" fill="#1a1a1a"/>
<path d="M449.2 890 L444.6 888 L446 899 L434 895 L440 907 L437 918 L449.2 913" stroke-width="1.8" fill="#fff"/>
<path d="M417.5 896 L424 905 L420 906 L425.5 916 L417.5 914" stroke-width="1.4"/>
<path d="M430.4 927.25 L435.57 937.25 L447 941.25 L435.57 945 L430.4 958.25 L429.32 943.25 L422 934.25 L429.32 935.5Z" stroke-width="1.8" fill="#fff"/>
<path d="M422.5 934.25 L429.5 933.25 L428 942.25Z" stroke-width="1" fill="#1a1a1a"/>
<path d="M449.2 936.25 L444.6 934.25 L446 945.25 L434 941.25 L440 953.25 L437 964.25 L449.2 959.25" stroke-width="1.8" fill="#fff"/>
<path d="M417.5 942.25 L424 951.25 L420 952.25 L425.5 962.25 L417.5 960.25" stroke-width="1.4"/>
<path d="M430.4 973.5 L435.57 983.5 L447 987.5 L435.57 991.25 L430.4 1004.5 L429.32 989.5 L422 980.5 L429.32 981.75Z" stroke-width="1.8" fill="#fff"/>
<path d="M422.5 980.5 L429.5 979.5 L428 988.5Z" stroke-width="1" fill="#1a1a1a"/>
<path d="M449.2 982.5 L444.6 980.5 L446 991.5 L434 987.5 L440 999.5 L437 1010.5 L449.2 1005.5" stroke-width="1.8" fill="#fff"/>
<path d="M417.5 988.5 L424 997.5 L420 998.5 L425.5 1008.5 L417.5 1006.5" stroke-width="1.4"/>
<path d="M590.2 696.3 L595.13 708.17 L606.5 716 L594.91 717.6 L589.5 726.7 L584.62 714.78 L573.3 706.9 L584.84 705.35Z" stroke-width="1.8"/>
<path d="M611.5 727.4 L615.29 739.63 L624.2 749.3 L615.51 747.97 L612.2 754.3 L606.96 743.82 L596.6 735.9 L606.74 735.48Z" stroke-width="1.8"/>
<path d="M629.1 714.7 L631.9 727.49 L639 738 L631.69 736.48 L628.4 743.7 L624.9 731.21 L617.1 721 L625.11 722.22Z" stroke-width="1.8"/>
<path d="M640 748 L641.8 756.6 L646 762 L641.8 763.2 L640 770 L638.2 761.4 L634 756 L638.2 754.8Z" stroke-width="1.8"/>
<path d="M552 699.8 L561.2 705.5 L551.3 708.3Z" stroke-width="1.8"/>
<path d="M567.6 714.7 L582.5 732.4 L559.8 723.9Z" stroke-width="1.8"/>
<path d="M450 717 L455 709 L460 716" stroke-width="1.8"/>
<path d="M491 699 L494 693 L497 698" stroke-width="1.8"/>
<path d="M421 750 L427 742 L431 752" stroke-width="1.6"/>
<path d="M430 733 L436 739 L441 731" stroke-width="1.6"/>
<path d="M646 742 L650 752 L652 768 L648 772" stroke-width="2.4"/>
<path d="M425.6 761 L482.4 794.5 L494 788 L515.4 777" stroke-width="1.8"/>
<path d="M515.4 777 Q512 770 516.2 768.9 Q526 757 539.3 756.5 Q560 757 565 770.5 Q566 778 559.2 780.4" stroke-width="1.8"/>
<path d="M559.2 780.4 L600.4 802.7" stroke-width="1.8"/>
<path d="M551.9 721.2 L643.4 773.1" stroke-width="1.8"/>
<path d="M425.6 761 L442 752" stroke-width="1.8"/>
<ellipse cx="569.8" cy="745.7" rx="4" ry="2.4" stroke-width="1.4"/>
<path d="M607.5 767 L620 774" stroke-width="3.2"/>
<path d="M608 768 L619 773.5" stroke="#fff" stroke-width="1"/>
<path d="M441.5 730.4 L525 687.5 L551.1 697.5 L481.4 737.3 L441.5 730.4" stroke-width="1.8" fill="#fff"/>
<path d="M445.3 722 L525 686.5" stroke-width="4.4"/>
<path d="M441.5 731 L480.6 737" stroke-width="4.6"/>
<path d="M491.3 726.6 L551.1 695.7" stroke-width="4.4"/>
<path d="M444.6 731 L444.6 755.7 L482 776.3 L550.3 737.3 L550.3 699" stroke-width="1.8"/>
<line x1="482" y1="737.5" x2="482" y2="776.3" stroke-width="2"/>
<path d="M446.6 728.5 q-4 0 -4 -4 q0 -4 4.5 -4 l7 3 l-1 7 z" stroke-width="1.6" fill="#fff"/>
<path d="M445.6 727.5 q-3.5 0 -3.5 -4 q0 -3.5 3.5 -3.5" stroke-width="2.6"/>
<circle cx="448.6" cy="724.5" r="1.2" fill="#1a1a1a" stroke="none"/>
<path d="M481 733.9 q-4 0 -4 -4 q0 -4 4.5 -4 l7 3 l-1 7 z" stroke-width="1.6" fill="#fff"/>
<path d="M480 732.9 q-3.5 0 -3.5 -4 q0 -3.5 3.5 -3.5" stroke-width="2.6"/>
<circle cx="483" cy="729.9" r="1.2" fill="#1a1a1a" stroke="none"/>
<path d="M516 697 q0 -5 4.5 -5 q4.5 0 4.5 4 l0 2 z" stroke-width="1.8" fill="#fff"/>
<path d="M525 687 l7 -4 l8 0 l6 4 l6 8" stroke-width="3.4"/>
<circle cx="537.3" cy="685.2" r="2.6" fill="#1a1a1a" stroke="none"/>
<line x1="482.4" y1="794.5" x2="482.4" y2="971.7" stroke-width="1.8"/>
<line x1="524.5" y1="759.8" x2="524.5" y2="818" stroke-width="1.6"/>
<line x1="600.4" y1="802.7" x2="600.4" y2="898" stroke-width="1.8"/>
<path d="M427 726 Q420.5 738 421.2 758 L421.2 1000" stroke-width="1.2"/>
<path d="M623.6 787.3 L627.05 795.24 L636.1 793.3 L627.05 803.13 L623.6 816 L620.2 807.31 L611.2 808.5 L620.2 799.42Z" stroke-width="1.8"/>
<path d="M641 800.9 L644.4 809.89 L653.4 809 L644.4 818.08 L641 830.7 L637.55 821.96 L628.5 823.1 L637.55 813.77Z" stroke-width="1.8"/>
<path d="M623.6 833.4 L627.05 841.77 L636.1 840.4 L627.05 849.8 L623.6 862.6 L620.2 853.68 L611.2 854.5 L620.2 845.65Z" stroke-width="1.8"/>
<path d="M640.4 846.4 L646.4 853.4 L636.6 859.4Z" stroke-width="1.8"/>
<path d="M647 807 L654.5 807 L654.5 815.5Z" stroke-width="1" fill="#1a1a1a"/>
<path d="M600.4 802.7 L610.1 791.1 L637.2 777 L640.4 784 L643.7 775.4" stroke-width="2"/>
<path d="M610.1 791.1 L606.3 798.2 L606.3 822 L612.3 826.3 L618.8 828.5 L610.1 838.3 L606.8 848 L606.8 867.5 L610.1 874 L605.75 876.2 L605.75 900" stroke-width="1.8"/>
<path d="M484.5 838 Q500 823 522.2 818" stroke-width="2.4"/>
<path d="M484.5 840.8 Q500.84 825.8 522.2 820.52" stroke-width="1.8"/>
<path d="M484.5 843.6 Q501.68 828.6 522.2 823.04" stroke-width="2.4"/>
<path d="M484.5 846.4 Q502.52 831.4 522.2 825.56" stroke-width="1.8"/>
<path d="M484.5 849.2 Q503.36 834.2 522.2 828.08" stroke-width="2.4"/>
<path d="M486 880 Q487 848 515 835" stroke-width="2.2"/>
<path d="M487.92 880 Q489.56 849.92 515.96 836.6" stroke-width="1.4"/>
<path d="M489.84 880 Q492.12 851.84 516.92 838.2" stroke-width="2.2"/>
<path d="M491.76 880 Q494.68 853.76 517.88 839.8" stroke-width="1.4"/>
<path d="M493.68 880 Q497.24 855.68 518.84 841.4" stroke-width="2.2"/>
<path d="M495.6 880 Q499.8 857.6 519.8 843" stroke-width="1.4"/>
<path d="M522.2 842 L522.2 830 Q524 817 541.3 816 Q560 817 563.6 830 L563.6 845.6" stroke-width="2.6"/>
<path d="M526 842 L526 832 Q528 821 541.3 820.5 Q556 821 559.5 831 L559.5 843" stroke-width="1.2"/>
<path d="M563.6 832 L590 848 Q597 858 598 897" stroke-width="2.6"/>
<path d="M563.6 834.8 L588.88 850.24 Q595.32 860.8 594.64 897" stroke-width="1.8"/>
<path d="M563.6 837.6 L587.76 852.48 Q593.64 863.6 591.28 897" stroke-width="2.6"/>
<path d="M563.6 840.4 L586.64 854.72 Q591.96 866.4 587.92 897" stroke-width="1.8"/>
<path d="M563.6 843.2 L585.52 856.96 Q590.28 869.2 584.56 897" stroke-width="2.6"/>
<path d="M510.3 894.6 Q511 838 550 832 Q588 838 591.7 895" stroke-width="1.4"/>
<path d="M525.7 838 L542.2 843.9 L577.5 865 L572.8 872.2 L533.9 849.8 L525.7 838" stroke-width="1.8" fill="#fff"/>
<path d="M533.9 849.8 L572.8 872.2 L563.4 888.7 L533.9 869.2" stroke-width="1.8" fill="#fff"/>
<path d="M533.9 849.8 Q511 851 513.9 862.7 Q519 870 533.9 869.2" stroke-width="1.6"/>
<path d="M484.6 872.5 L503 880 L511 876" stroke-width="1.8"/>
<path d="M577.5 878 L590 886 L597 882" stroke-width="1.8"/>
<path d="M484.9 968.3 L484.9 900 Q485 884 499 878 L510 873" stroke-width="2.2"/>
<path d="M490.2 968.3 L490.2 906.7 Q491 890 503 884 L510.3 880" stroke-width="1.4"/>
<path d="M509.3 879 Q507 912 518.8 913 L538 912 Q548 905 545.4 881.2" stroke-width="1.3"/>
<path d="M491.2 903.5 Q496 893 510.3 891.8 L544.3 890.8 L622.8 921.6 Q628 925 628 936 L628 953.4 Q626 960 618.6 959.8" stroke-width="1.4"/>
<path d="M492.7 927.6 Q500 915 522.5 913.5 L534 916 L665.3 987" stroke-width="1.6"/>
<path d="M562 905 L600 924.8" stroke-width="1.3"/>
<path d="M494.2 941.8 L516 928 Q521 925 527 928 L593.2 965.8 L577.6 974.3 Z" stroke-width="2.2"/>
<path d="M502.22 941.96 L530.22 957.46" stroke-width="2.6"/>
<path d="M507.58 938.84 L535.58 954.34" stroke-width="2.6"/>
<path d="M512.94 935.72 L540.94 951.22" stroke-width="2.6"/>
<path d="M518.3 932.6 L546.3 948.1" stroke-width="2.6"/>
<path d="M546.24 961.12 L574.24 976.12" stroke-width="2.6"/>
<path d="M552.94 957.22 L580.94 972.22" stroke-width="2.6"/>
<path d="M559.64 953.32 L587.64 968.32" stroke-width="2.6"/>
<path d="M542 955 L556 947" stroke-width="3.6"/>
<path d="M577.6 974.3 L665.3 1026.2" stroke-width="2.6"/>
<path d="M529.4 870.6 L562.3 887.6 L576.1 878" stroke-width="1.8"/>
<path d="M576.1 890.8 L601.6 901.4" stroke-width="1.8"/>
<path d="M484.9 968.3 Q486 971.5 492 971.5 L498.4 971.5 L521 961.6" stroke-width="1.8"/>
<line x1="508.3" y1="968.7" x2="508.3" y2="985" stroke-width="1.6"/>
<path d="M599.2 986.6 L633.2 970.6" stroke-width="1.5"/>
<path d="M608.7 992.3 L640.75 976.2" stroke-width="1.5"/>
<line x1="624.7" y1="919.4" x2="624.7" y2="975" stroke-width="1.3"/>
<line x1="629.4" y1="922" x2="629.4" y2="978" stroke-width="1.2"/>
<line x1="640.75" y1="928" x2="640.75" y2="986" stroke-width="1.6"/>
<path d="M450.4 917.1 L486.7 934.6" stroke-width="2"/>
<path d="M453 919 L453 947 Q454 956 460 958" stroke-width="1.6"/>
<path d="M456 920.5 L456 946 Q457 953 461 955" stroke-width="0.9"/>
<path d="M459 921.9 L459 949.9 Q460 958.9 466 960.9" stroke-width="1.6"/>
<path d="M462 923.4 L462 948.9 Q463 955.9 467 957.9" stroke-width="0.9"/>
<path d="M465 924.8 L465 952.8 Q466 961.8 472 963.8" stroke-width="1.6"/>
<path d="M468 926.3 L468 951.8 Q469 958.8 473 960.8" stroke-width="0.9"/>
<path d="M471 927.7 L471 955.7 Q472 964.7 478 966.7" stroke-width="1.6"/>
<path d="M474 929.2 L474 954.7 Q475 961.7 479 963.7" stroke-width="0.9"/>
<path d="M477 930.6 L477 958.6 Q478 967.6 484 969.6" stroke-width="1.6"/>
<path d="M480 932.1 L480 957.6 Q481 964.6 485 966.6" stroke-width="0.9"/>
<path d="M483 933.5 L483 961.5 Q484 970.5 490 972.5" stroke-width="1.6"/>
<path d="M486 935 L486 960.5 Q487 967.5 491 969.5" stroke-width="0.9"/>
<path d="M467.2 964.5 L498.4 973.6 L510 968" stroke-width="2"/>
<line x1="464.6" y1="960.6" x2="464.6" y2="982.6" stroke-width="1.5"/>
<line x1="467.2" y1="962" x2="467.2" y2="982.6" stroke-width="1.5"/>
<path d="M467.2 964.5 L507.5 987.8 L507.5 970.9" stroke-width="1.8"/>
<path d="M507.5 987.8 L533.2 971.5 L665.3 1045" stroke-width="2"/>
<path d="M449.1 986.5 L499.7 1003.4 L459.5 1026.7 L449.1 1021.6" stroke-width="1.8"/>
<path d="M450.4 993 L482.8 1006.6 L465.3 1017.7 Q452 1012 450.4 1000" stroke-width="1.3"/>
<path d="M453 976.2 L464.6 971" stroke-width="1.5"/>
<path d="M472.4 986.5 Q476 978 484 974.9" stroke-width="1.1"/>
<path d="M442.6 1022 L456.9 1026 L456.9 1039.7" stroke-width="1.8"/>
<path d="M445 1020 L445 1036" stroke-width="1.2"/>
<path d="M601 1011 L601 1028" stroke-width="1.6"/>
<path d="M601 1027 Q610 1020 622 1022.5" stroke-width="1.2"/>
<path d="M601.5 902.8 L633.9 886 L642.6 880.5 L645.8 889.2 L655.8 894.6" stroke-width="1.8"/>
<path d="M601.5 902.8 L662.5 940" stroke-width="1.8"/>
<path d="M636.1 885.5 L695.6 919.3" stroke-width="1.8"/>
<line x1="662.5" y1="940" x2="662.5" y2="1044" stroke-width="1.4"/>
<path d="M666.7 937.5 L705.9 917 L706.8 1018 L698 1022 L698 1044.5 L666.7 1058.7 L666.7 937.5" stroke-width="2.4" fill="#fff"/>
<path d="M669 943 L703 925.5" stroke-width="3"/>
<path d="M670 948 L701 931 L701 1013 L670 1030 L670 948" stroke-width="1.6"/>
<path d="M673 1020 L673 962 Q678 952 690 946 L697 942 L697 1008 L673 1022" stroke-width="1.8"/>
<path d="M668 1036 L697 1021" stroke-width="1.5"/>
<path d="M668 1042 L697 1027" stroke-width="1.5"/>
<path d="M672 1050 L672 1044 L694 1033 L694 1039 L672 1050" stroke-width="1.4"/>
<path d="M676 1004 Q674 985 676 968 Q680 978 681 990 M680 1000 Q680 975 684 958 Q686 972 685 990 M683 1003 Q686 978 692 952 Q691 972 688 996 M686 1000 Q690 985 695 968 Q693 985 690 1000" stroke-width="2.4"/>
<path d="M677 1006 L690 1003 M679 985 L682 992 M687 980 L689 988" stroke-width="1.4"/>
<rect x="698" y="937" width="12" height="6" rx="2" stroke-width="1.6" fill="#fff"/>
<rect x="698" y="997" width="12" height="6" rx="2" stroke-width="1.6" fill="#fff"/>
</g>
</svg>
</body></html>
